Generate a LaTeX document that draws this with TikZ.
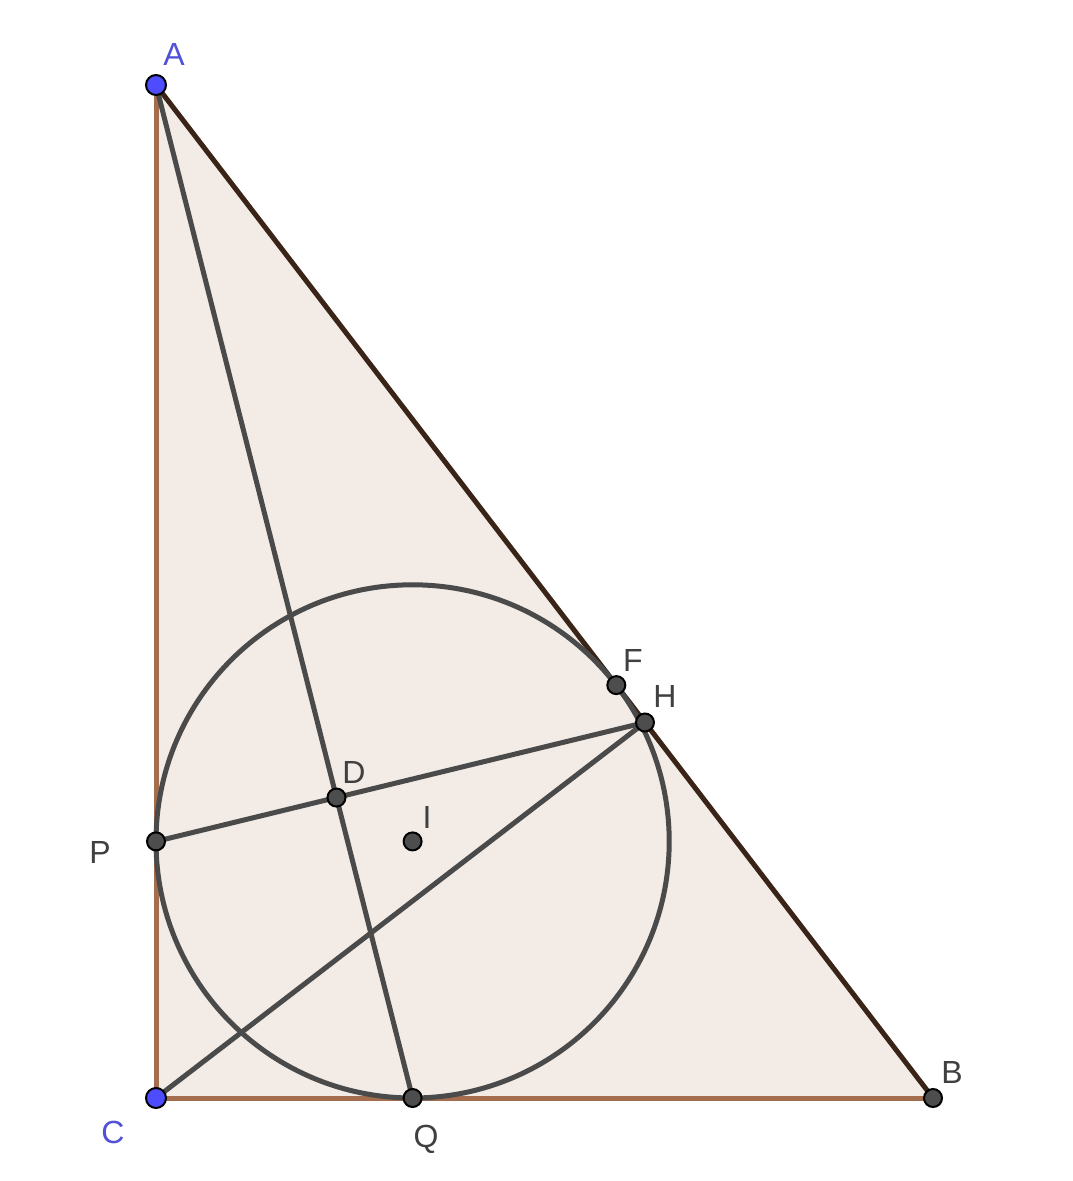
\documentclass[tikz,border=0pt]{standalone}
\usepackage{fontspec}
\setmainfont{Liberation Sans}
\usetikzlibrary{calc}
\definecolor{tri}{HTML}{F2EBE6}
\definecolor{leg}{HTML}{A46E4E}
\definecolor{hyp}{HTML}{3A2418}
\definecolor{seg}{HTML}{4A4A4A}
\definecolor{ptgray}{HTML}{4D4D4D}
\definecolor{ptblue}{HTML}{4D4DFF}
\definecolor{lblblue}{HTML}{5050D8}
\definecolor{lblgray}{HTML}{404040}
\tikzset{
  pt/.style={circle,draw=black,line width=1pt,fill=ptgray,inner sep=0pt,minimum size=9pt},
  freept/.style={pt,fill=ptblue,minimum size=10pt},
  lbl/.style={text=lblgray,font=\fontsize{16}{19}\selectfont,inner sep=1pt},
  bluelbl/.style={lbl,text=lblblue},
  segline/.style={draw=seg,line width=2.5pt},
}
\begin{document}
\begin{tikzpicture}[x=0.5pt,y=-0.5pt]
\useasboundingbox (0,0) rectangle (1072,1181);
\coordinate (A) at (156,85);
\coordinate (C) at (156,1098);
\coordinate (B) at (933,1098);
\coordinate (I) at (412.6,841.4);
\coordinate (P) at (156,841.4);
\coordinate (Q) at (412.6,1098);
\coordinate (F) at ($(A)!0.5924!(B)$);
\coordinate (H) at ($(A)!0.6293!(B)$);
\coordinate (D) at (intersection of A--Q and P--H);
% triangle
\fill[tri] (A) -- (B) -- (C) -- cycle;
\draw[leg,line width=2.5pt] (A) -- (C) -- (B);
\draw[hyp,line width=2.5pt] (A) -- (B);
% incircle
\draw[segline] (I) circle[radius=256.6];
% cevians
\draw[segline] (A) -- (Q);
\draw[segline] (P) -- (H);
\draw[segline] (C) -- (H);
% points
\node[freept] (nA) at (A) {};
\node[freept] (nC) at (C) {};
\node[pt] (nB) at (B) {};
\node[pt] (nQ) at (Q) {};
\node[pt] (nP) at (P) {};
\node[pt] (nI) at (I) {};
\node[pt] (nF) at (F) {};
\node[pt] (nH) at (H) {};
\node[pt] (nD) at (D) {};
% labels
\node[bluelbl] (lA) at (174,54) {A};
\node[bluelbl] (lC) at (113,1132) {C};
\node[lbl] (lB) at (952,1072) {B};
\node[lbl] (lQ) at (426,1139) {Q};
\node[lbl] (lP) at (100,852) {P};
\node[lbl] (lI) at (427,817) {I};
\node[lbl,fill=tri,fill opacity=0.8,text opacity=1] (lD) at (354,772) {D};
\node[lbl] (lF) at (633,660) {F};
\node[lbl] (lH) at (665,696) {H};
\end{tikzpicture}
\end{document}
